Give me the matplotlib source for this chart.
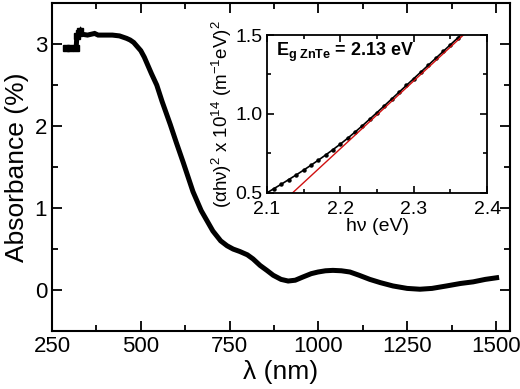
import matplotlib
matplotlib.use("Agg")
import matplotlib.pyplot as plt
from matplotlib.ticker import MultipleLocator

plt.rcParams['font.family'] = ['Liberation Sans', 'DejaVu Sans']
plt.rcParams['mathtext.fontset'] = 'custom'
plt.rcParams['mathtext.rm'] = 'Liberation Sans'
plt.rcParams['mathtext.bf'] = 'Liberation Sans:bold'
plt.rcParams['mathtext.it'] = 'Liberation Sans:italic'

# main spectrum
wavelength = [290, 300, 318, 320, 325, 330, 335, 350, 370, 380, 400, 420, 440, 460,
              470, 480, 490, 500, 510, 520, 530, 545, 560, 583, 600, 620, 647, 670,
              703, 725, 743, 760, 779, 800, 816, 836, 855, 873, 895, 915, 935, 957,
              980, 999, 1020, 1041, 1065, 1089, 1115, 1145, 1175, 1210, 1250, 1286,
              1320, 1361, 1400, 1436, 1470, 1502]
absorbance = [2.95, 2.95, 2.95, 3.10, 3.13, 3.16, 3.12, 3.11, 3.13, 3.11, 3.11, 3.11,
              3.10, 3.07, 3.05, 3.02, 2.97, 2.92, 2.84, 2.74, 2.64, 2.50, 2.30, 2.02,
              1.80, 1.55, 1.20, 0.97, 0.72, 0.60, 0.54, 0.50, 0.47, 0.43, 0.38, 0.30,
              0.24, 0.18, 0.13, 0.11, 0.12, 0.16, 0.20, 0.22, 0.235, 0.24, 0.235, 0.22,
              0.18, 0.13, 0.09, 0.05, 0.02, 0.01, 0.02, 0.05, 0.08, 0.10, 0.13, 0.15]

# Tauc plot inset
energy = [2.10, 2.11, 2.12, 2.13, 2.14, 2.15, 2.16, 2.17, 2.18, 2.19, 2.20, 2.21,
          2.22, 2.23, 2.24, 2.25, 2.26, 2.27, 2.28, 2.29, 2.30, 2.31, 2.32, 2.33,
          2.34, 2.35, 2.36, 2.37]
tauc = [0.500, 0.528, 0.556, 0.585, 0.614, 0.644, 0.675, 0.707, 0.740, 0.774, 0.809,
        0.846, 0.885, 0.925, 0.967, 1.009, 1.052, 1.095, 1.138, 1.181, 1.224, 1.267,
        1.310, 1.353, 1.396, 1.439, 1.482, 1.525]
fit_x = [2.135, 2.40]
fit_y = [0.5, 1.6395]

fig = plt.figure(figsize=(5.2, 3.89), dpi=100)
ax = fig.add_axes([0.1, 0.149, 0.881, 0.843])
ax.plot(wavelength, absorbance, color='black', lw=3.6, solid_joinstyle='miter')
ax.plot(wavelength[:6], absorbance[:6], 's', color='black', ms=4)
ax.set_xlim(250, 1540)
ax.set_ylim(-0.5, 3.5)
ax.xaxis.set_major_locator(MultipleLocator(250))
ax.xaxis.set_minor_locator(MultipleLocator(125))
ax.yaxis.set_major_locator(MultipleLocator(1))
ax.yaxis.set_minor_locator(MultipleLocator(0.5))
ax.tick_params(which='both', direction='in', top=True, right=True, width=1.3,
               labelsize=16)
ax.tick_params(which='major', length=7)
ax.tick_params(which='minor', length=4)
for s in ax.spines.values():
    s.set_linewidth(1.5)
ax.set_xlabel('λ (nm)', fontsize=19, labelpad=2)
ax.set_ylabel('Absorbance (%)', fontsize=19, labelpad=4)

ins = fig.add_axes([0.513, 0.504, 0.424, 0.406])
ins.plot(energy, tauc, '-o', color='black', lw=1.2, ms=2.2)
ins.plot(fit_x, fit_y, color='#d01010', lw=1.0)
ins.set_xlim(2.1, 2.4)
ins.set_ylim(0.5, 1.5)
ins.xaxis.set_minor_locator(MultipleLocator(0.05))
ins.yaxis.set_minor_locator(MultipleLocator(0.25))
ins.set_xticks([2.1, 2.2, 2.3, 2.4])
ins.set_xticklabels(['2.1', '2.2', '2.3', '2.4'])
ins.set_yticks([0.5, 1.0, 1.5])
ins.set_yticklabels(['0.5', '1.0', '1.5'])
ins.tick_params(which='both', direction='in', top=True, right=True, width=1.2,
                labelsize=14)
ins.tick_params(axis='x', pad=6)
ins.tick_params(axis='y', pad=3)
ins.tick_params(which='major', length=5)
ins.tick_params(which='minor', length=3)
for s in ins.spines.values():
    s.set_linewidth(1.3)
ins.set_xlabel('hν (eV)', fontsize=14, labelpad=0)
ins.set_ylabel('(αhν)$^2$ x 10$^{14}$ (m$^{-1}$eV)$^2$', fontsize=13.5, labelpad=1)
ins.text(0.04, 0.89, r'$\mathbf{E_{g\ ZnTe}}$ = 2.13 eV', transform=ins.transAxes,
         fontsize=13, fontweight='bold', va='center', ha='left')

fig.savefig('out.png', dpi=100)
